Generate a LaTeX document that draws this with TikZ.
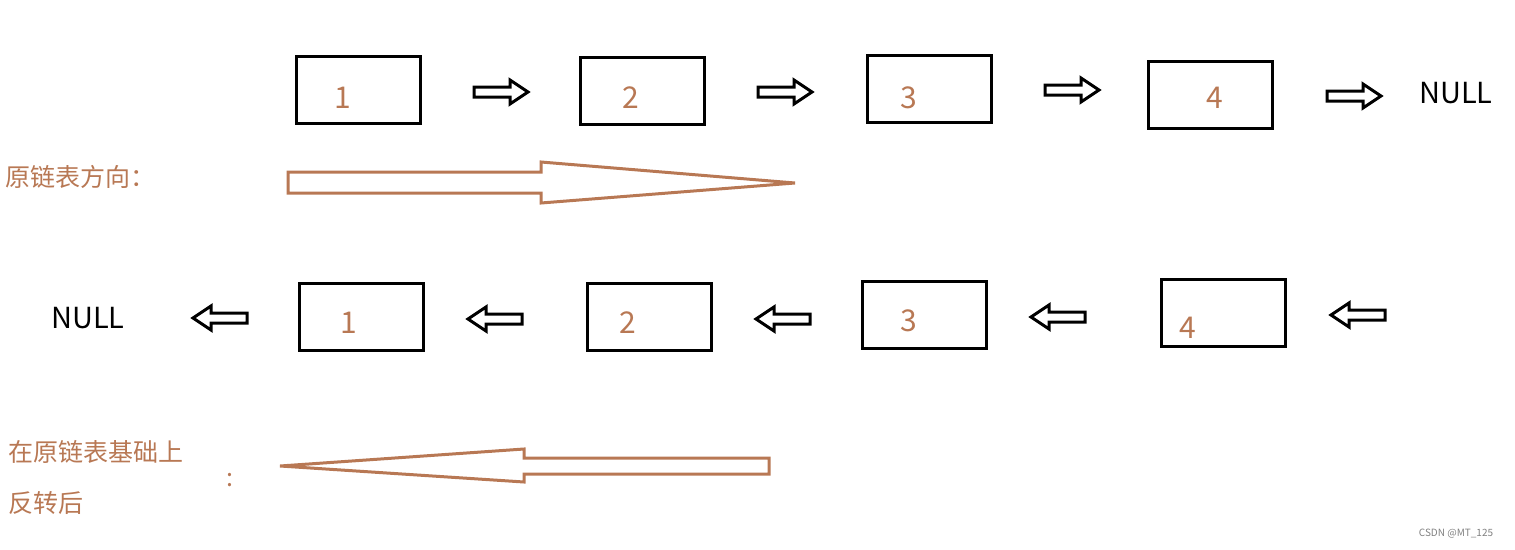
\documentclass[tikz,border=0pt]{standalone}
\usepackage{fontspec}
\setmainfont{Noto Sans CJK SC}
\begin{document}
\begin{tikzpicture}[x=1pt,y=-1pt,
  box/.style={draw=black,line width=3pt,minimum width=124pt,minimum height=67pt,inner sep=0pt},
  num/.style={text=brn,font=\fontsize{30}{30}\selectfont,inner sep=0pt},
  lbl/.style={text=brn,font=\fontsize{25}{25}\selectfont,inner sep=0pt,anchor=west},
  nul/.style={font=\fontsize{29}{29}\selectfont,inner sep=0pt},
  hr/.pic={\draw[line width=3pt,line join=miter] (0,-5)--(36,-5)--(36,-12)--(54,0)--(36,12)--(36,5)--(0,5)--cycle;},
  hl/.pic={\draw[line width=3pt,line join=miter] (0,-5)--(-36,-5)--(-36,-12)--(-54,0)--(-36,12)--(-36,5)--(0,5)--cycle;}]
\definecolor{brn}{RGB}{184,120,84}
\useasboundingbox (0,0) rectangle (1515,549);
% top row
\node[box] (t1) at (358,90) {}; \node[num] at (343,98) {1};
\node[box] (t2) at (642,91) {}; \node[num] at (631,98) {2};
\node[box] (t3) at (929,89) {}; \node[num] at (909,98) {3};
\node[box] (t4) at (1210,95) {}; \node[num] at (1215,98) {4};
\pic at (474,92) {hr}; \pic at (758,92) {hr}; \pic at (1045,90) {hr}; \pic at (1327,96) {hr};
\node[nul] (n1) at (1456,93) {NULL};
\node[lbl] (l1) at (5,177) {原链表方向：};
\draw[brn,line width=3pt,line join=miter] (288,172)--(541,172)--(541,162)--(795,183)--(541,203)--(541,193)--(288,193)--cycle;
% bottom row
\node[box] (b1) at (361,317) {}; \node[num] at (349,323) {1};
\node[box] (b2) at (649,317) {}; \node[num] at (628,323) {2};
\node[box] (b3) at (924,315) {}; \node[num] at (909,321) {3};
\node[box] (b4) at (1223,313) {}; \node[num] at (1188,328) {4};
\begin{scope}[shift={(247,318)},scale=1.06]\pic {hl};\end{scope}
\pic at (522,319) {hl}; \pic at (810,319) {hl}; \pic at (1085,317) {hl}; \pic at (1385,315) {hl};
\node[nul] (n2) at (88,318) {NULL};
\draw[brn,line width=3pt,line join=miter] (769,458)--(524,458)--(524,449)--(280,466)--(524,482)--(524,474)--(769,474)--cycle;
\node[lbl] (l2) at (8,452) {在原链表基础上};
\node[lbl] (l3) at (8,503) {反转后};
\node[lbl] (c) at (226,480) {:};
\node[text=gray,font=\fontsize{10}{10}\selectfont,inner sep=0pt] (w) at (1456,534) {CSDN @MT\_125};
\end{tikzpicture}
\end{document}
